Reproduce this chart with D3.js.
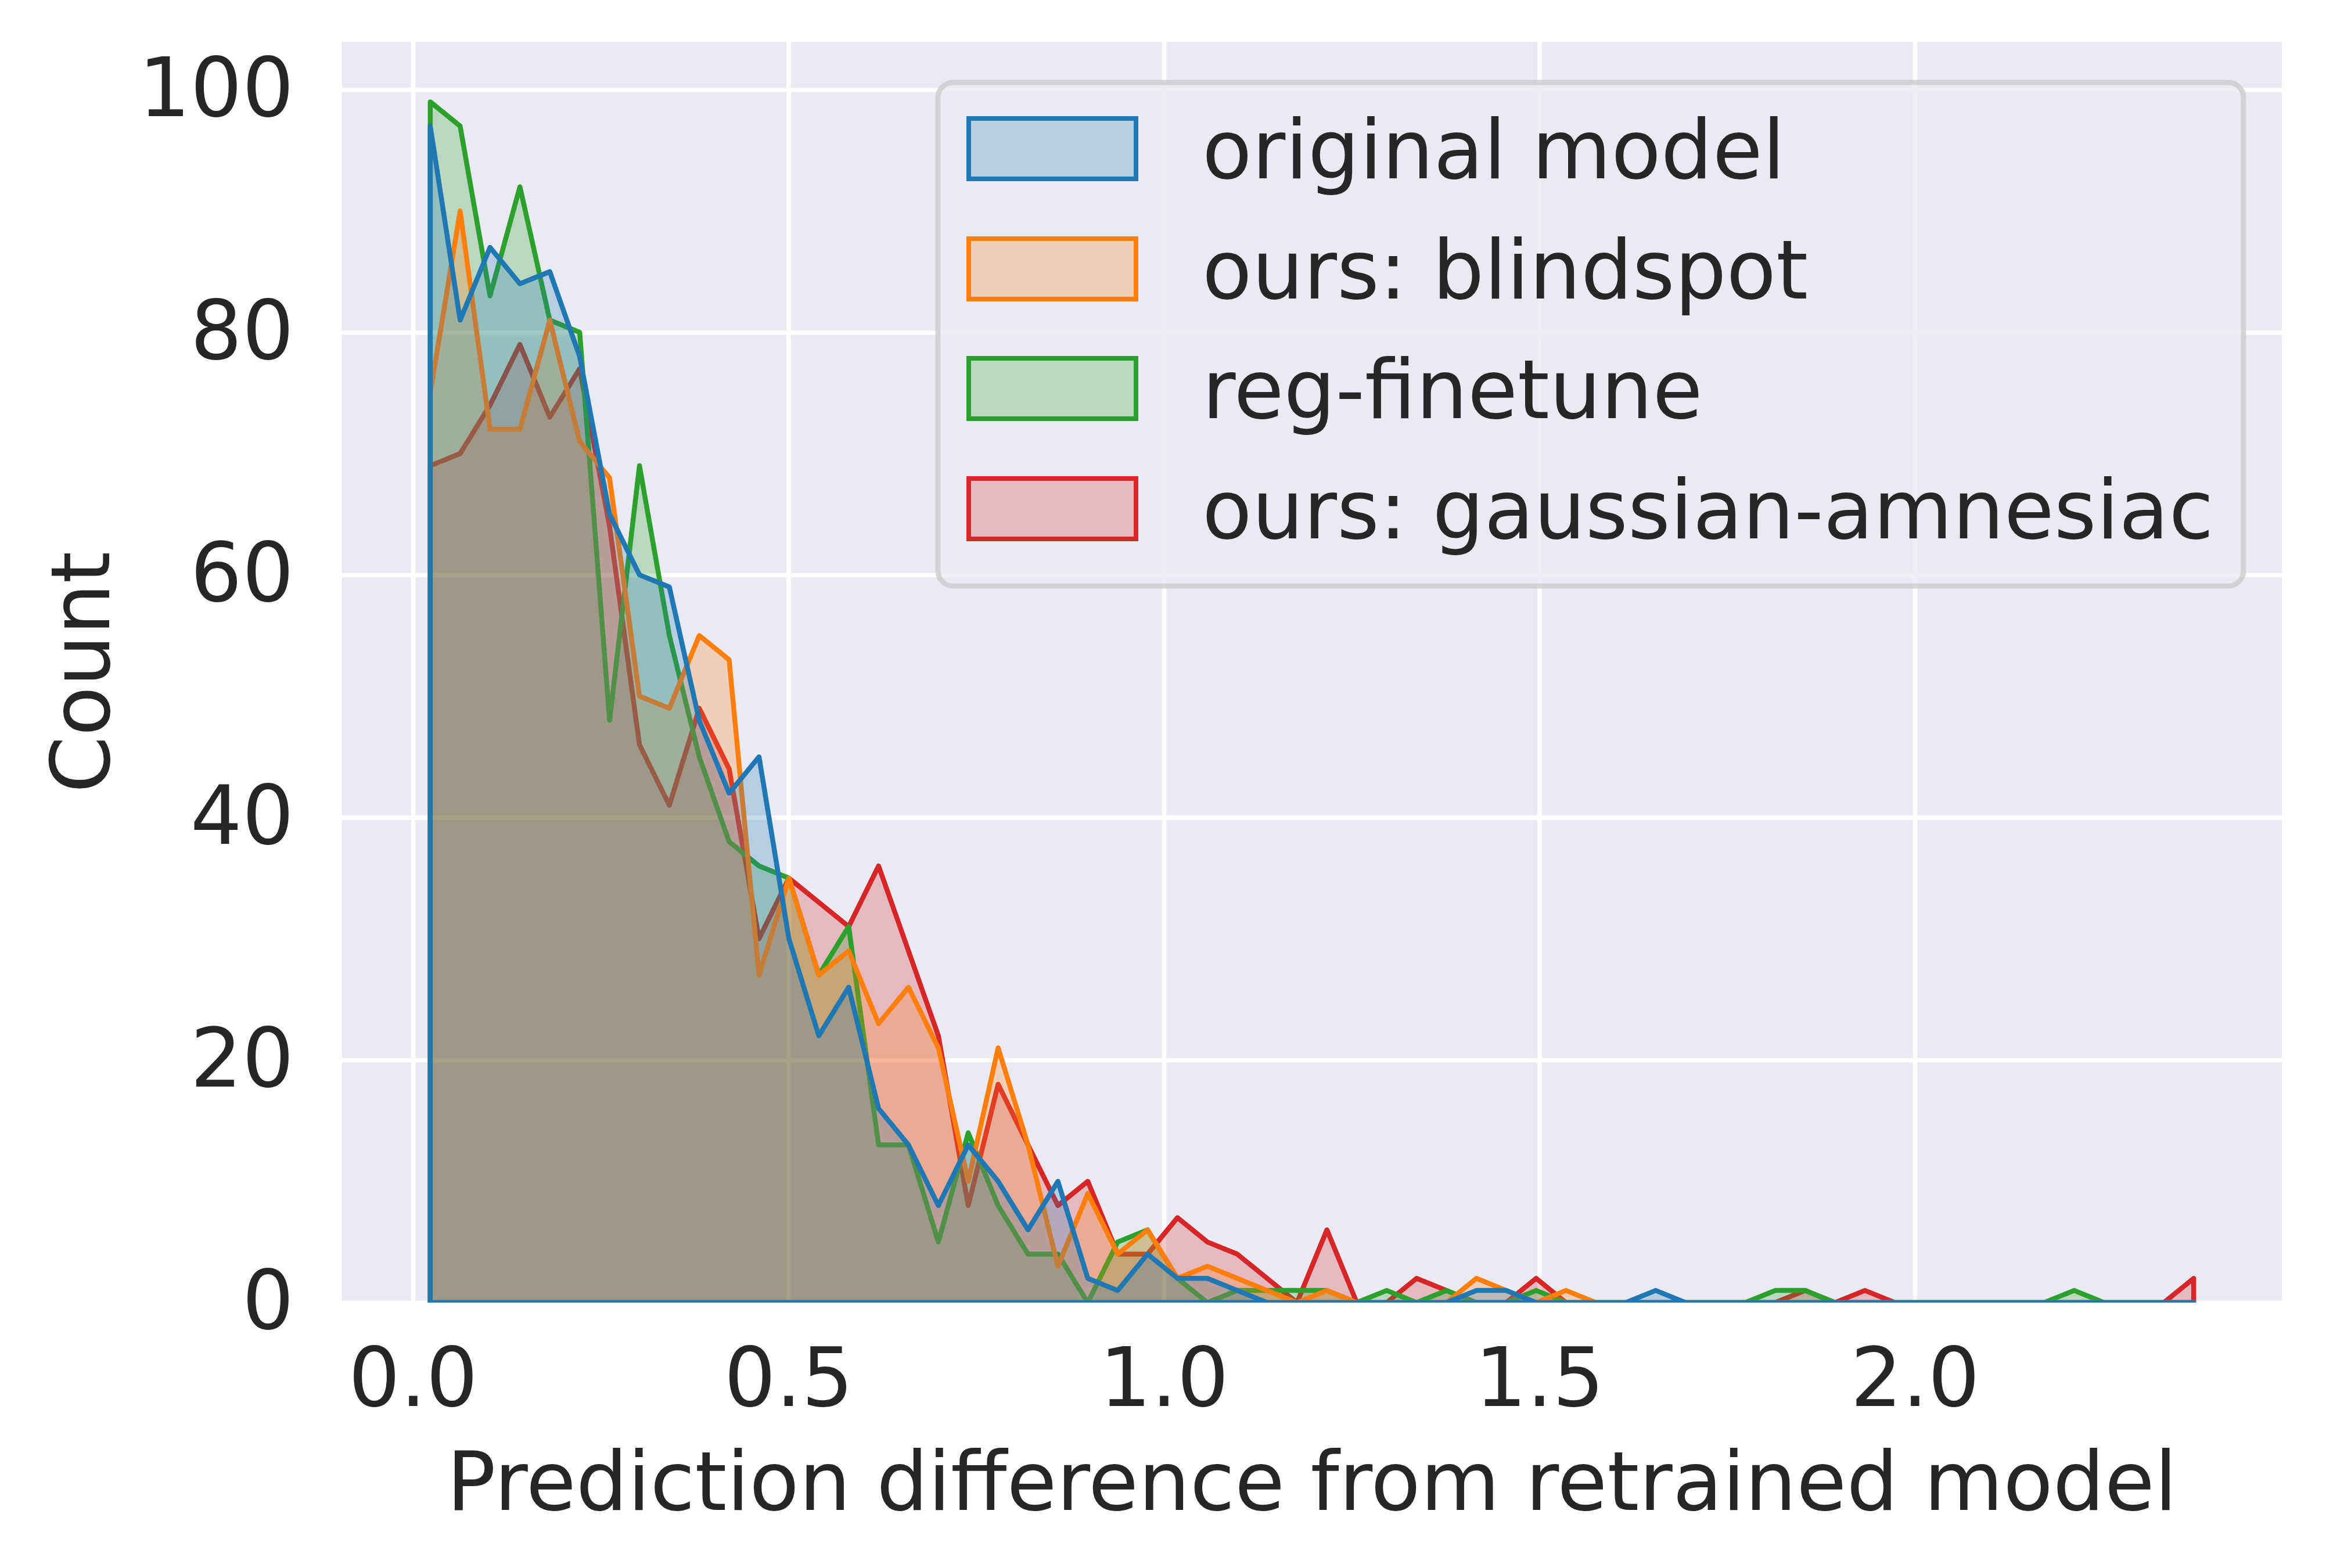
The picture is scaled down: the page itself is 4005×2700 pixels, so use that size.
<!DOCTYPE html>
<html>
<head>
<meta charset="utf-8">
<script src="https://cdn.jsdelivr.net/npm/d3@7"></script>
<style>
  body { margin: 0; background: #fff; }
  text { font-family: "DejaVu Sans", sans-serif; fill: #262626; }
</style>
</head>
<body>
<div id="chart"></div>
<script>
// histogram bins (shared by all series)
const binStart = 0.0032;
const binWidth = 0.0398;
const nBins = 60;

const seriesNames = ["original model", "ours: blindspot", "reg-finetune", "ours: gaussian-amnesiac"];
const seriesColors = ["#1f77b4", "#ff7f0e", "#2ca02c", "#d62728"];

const originalModel = [97, 81, 87, 84, 85, 78, 65, 60, 59, 48,
    42, 45, 30, 22, 26, 16, 13, 8, 13, 10,
    6, 10, 2, 1, 4, 2, 2, 1, 0, 0,
    0, 0, 0, 0, 0, 1, 1, 0, 0, 0,
    0, 1, 0, 0, 0, 0, 0, 0, 0, 0,
    0, 0, 0, 0, 0, 0, 0, 0, 0, 0];
const blindspot = [75, 90, 72, 72, 81, 71, 68, 50, 49, 55,
    53, 27, 35, 27, 29, 23, 26, 21, 10, 21,
    13, 3, 9, 4, 6, 2, 3, 2, 1, 0,
    1, 0, 0, 0, 0, 2, 1, 0, 1, 0,
    0, 0, 0, 0, 0, 0, 0, 0, 0, 0,
    0, 0, 0, 0, 0, 0, 0, 0, 0, 0];
const regFinetune = [99, 97, 83, 92, 81, 80, 48, 69, 55, 45,
    38, 36, 35, 27, 31, 13, 13, 5, 14, 8,
    4, 4, 0, 5, 6, 2, 0, 1, 1, 1,
    1, 0, 1, 0, 1, 0, 0, 1, 0, 0,
    0, 0, 0, 0, 0, 1, 1, 0, 0, 0,
    0, 0, 0, 0, 0, 1, 0, 0, 0, 0];
const gaussianAmnesiac = [69, 70, 74, 79, 73, 77, 64, 46, 41, 49,
    44, 30, 35, 33, 31, 36, 29, 22, 8, 18,
    13, 8, 10, 4, 4, 7, 5, 4, 2, 0,
    6, 0, 0, 2, 1, 0, 0, 2, 0, 0,
    0, 0, 0, 0, 0, 0, 1, 0, 1, 0,
    0, 0, 0, 0, 0, 0, 0, 0, 0, 2];

const xTicks = [0, 0.5, 1.0, 1.5, 2.0];
const yTicks = [0, 20, 40, 60, 80, 100];

const allSeries = [originalModel, blindspot, regFinetune, gaussianAmnesiac];
const binCenters = d3.range(nBins).map(i => binStart + (i + 0.5) * binWidth);

const svgWidth = 4005;
const svgHeight = 2700;
const margin = { top: 72, right: 76, bottom: 457, left: 589 };
const width = svgWidth - margin.left - margin.right;
const height = svgHeight - margin.top - margin.bottom;
const fontSize = 140;

const svg = d3.select("#chart")
    .append("svg")
    .attr("width", svgWidth)
    .attr("height", svgHeight)
    .style("display", "block");

svg.append("rect").attr("width", svgWidth).attr("height", svgHeight).attr("fill", "#fff");

const g = svg.append("g").attr("transform", `translate(${margin.left},${margin.top})`);

// matplotlib style 5% margin around bin centers
const [cMin, cMax] = d3.extent(binCenters);
const pad = (cMax - cMin) * 0.05;
const xScale = d3.scaleLinear().domain([cMin - pad, cMax + pad]).range([0, width]);
const yMax = d3.max(allSeries, s => d3.max(s)) * 1.05;
const yScale = d3.scaleLinear().domain([0, yMax]).range([height, 0]);

g.append("rect").attr("width", width).attr("height", height).attr("fill", "#eaeaf2");

// gridlines + tick labels
const xAxis = g.append("g")
    .attr("transform", `translate(0,${height})`)
    .call(d3.axisBottom(xScale).tickValues(xTicks).tickFormat(d3.format(".1f"))
        .tickSize(-height).tickPadding(79));
const yAxis = g.append("g")
    .call(d3.axisLeft(yScale).tickValues(yTicks).tickFormat(d3.format("d"))
        .tickSize(-width).tickPadding(83));

[xAxis, yAxis].forEach(ax => {
    ax.attr("font-size", fontSize).attr("font-family", "DejaVu Sans");
    ax.select(".domain").remove();
    ax.selectAll(".tick line").attr("stroke", "#fff").attr("stroke-width", 7.5);
    ax.selectAll(".tick text").attr("fill", "#262626");
});

g.append("defs").append("clipPath").attr("id", "plot-clip")
    .append("rect").attr("width", width).attr("height", height);

const area = g.append("g").attr("clip-path", "url(#plot-clip)");

// seaborn draws the last hue level first
for (let i = allSeries.length - 1; i >= 0; i--) {
    const values = allSeries[i];
    const pts = [[binCenters[0], 0]];
    values.forEach((v, j) => pts.push([binCenters[j], v]));
    pts.push([binCenters[nBins - 1], 0]);
    const line = d3.line().x(d => xScale(d[0])).y(d => yScale(d[1]));
    area.append("path")
        .attr("d", line(pts) + "Z")
        .attr("fill", seriesColors[i])
        .attr("fill-opacity", 0.25)
        .attr("stroke", seriesColors[i])
        .attr("stroke-width", 8.5)
        .attr("stroke-linejoin", "round");
}

// axis labels
svg.append("text")
    .attr("x", margin.left + width / 2)
    .attr("y", 2600)
    .attr("text-anchor", "middle")
    .attr("font-size", fontSize)
    .text("Prediction difference from retrained model");

svg.append("text")
    .attr("transform", `translate(188,${margin.top + height / 2}) rotate(-90)`)
    .attr("text-anchor", "middle")
    .attr("font-size", fontSize)
    .text("Count");

// legend
const legend = svg.append("g");
legend.append("rect")
    .attr("x", 1615).attr("y", 142)
    .attr("width", 2248).attr("height", 867)
    .attr("rx", 26)
    .attr("fill", "#eaeaf2").attr("fill-opacity", 0.8)
    .attr("stroke", "#cccccc").attr("stroke-opacity", 0.8)
    .attr("stroke-width", 9);

const rowY = [256, 463, 669, 876];
seriesNames.forEach((name, i) => {
    legend.append("rect")
        .attr("x", 1668).attr("y", rowY[i] - 52)
        .attr("width", 288).attr("height", 104)
        .attr("fill", seriesColors[i]).attr("fill-opacity", 0.25)
        .attr("stroke", seriesColors[i]).attr("stroke-width", 8);
    legend.append("text")
        .attr("x", 2070).attr("y", rowY[i] + 51)
        .attr("font-size", fontSize)
        .text(name);
});
</script>
</body>
</html>
